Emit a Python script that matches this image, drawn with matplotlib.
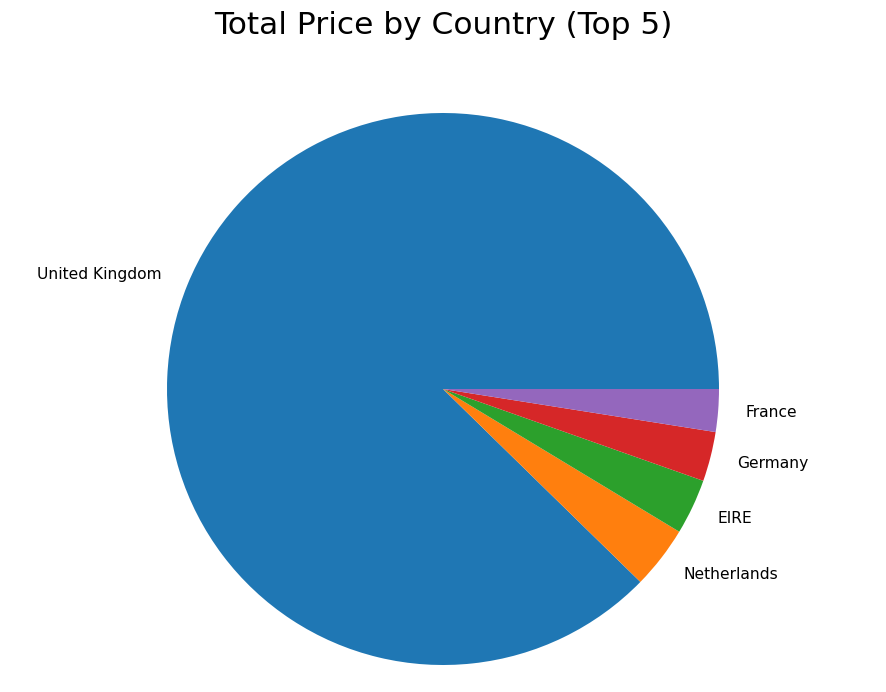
import matplotlib.pyplot as plt

# Top 5 countries by total price
countries = ["United Kingdom", "Netherlands", "EIRE", "Germany", "France"]
total_price = [7310000, 306000, 271000, 242000, 208000]

W, H = 886, 692
cx, cy, r = 443, 389, 276   # pie centre / radius in pixels

fig = plt.figure(figsize=(W / 100, H / 100), dpi=100)
ax = fig.add_axes([0, 0, 1, 1])

ax.pie(total_price, labels=countries, textprops={"fontsize": 11.2})

# keep the pie round and placed like the reference
ax.set_xlim(-cx / r, (W - cx) / r)
ax.set_ylim(-(H - cy) / r, cy / r)
ax.set_aspect("auto")
ax.axis("off")

fig.text(0.5, 1 - 25 / H, "Total Price by Country (Top 5)",
         fontsize=22.5, ha="center", va="center")

plt.savefig("out.png", dpi=100)
